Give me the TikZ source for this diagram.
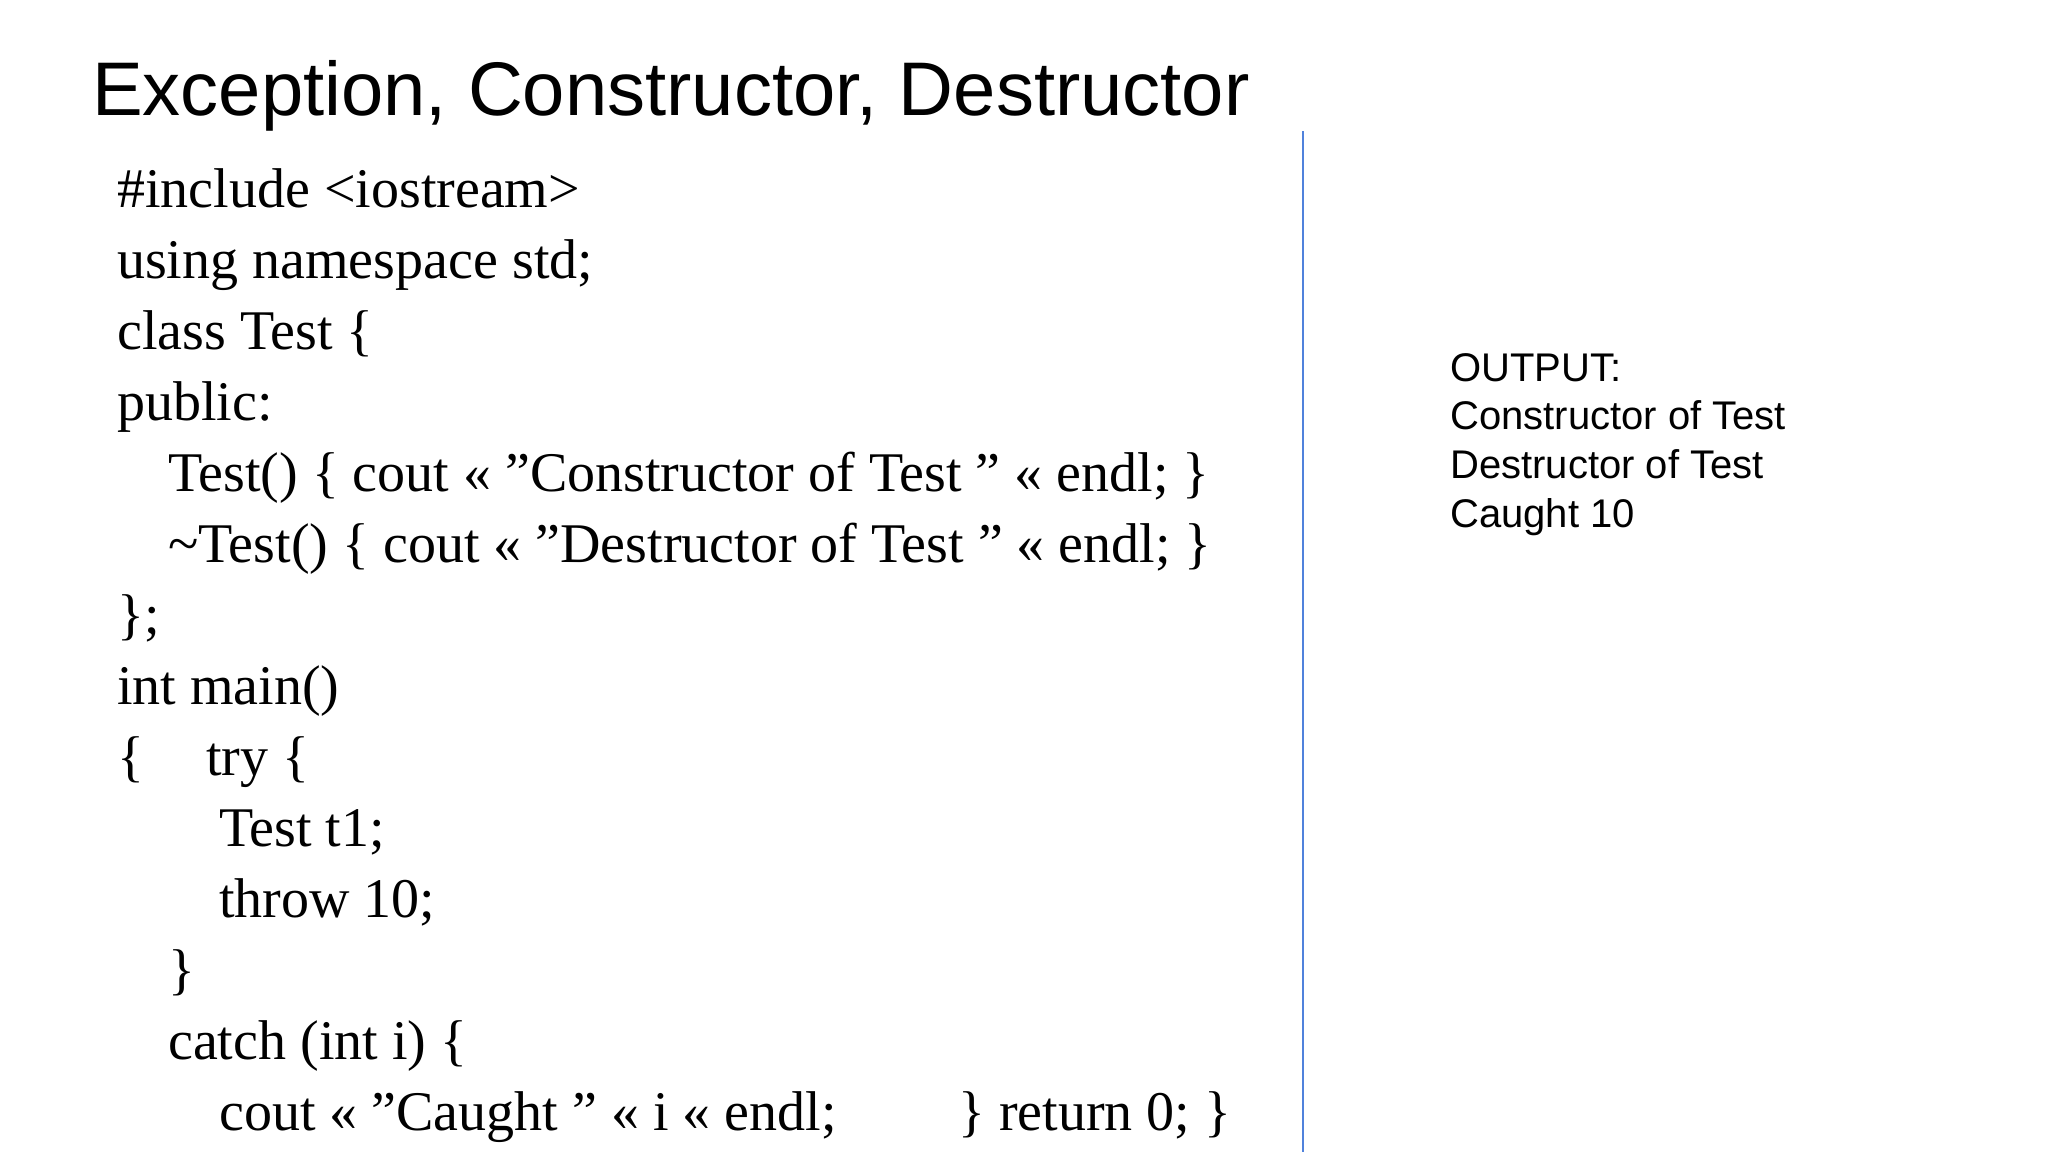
\documentclass[tikz,border=0pt]{standalone}
\usepackage{fontspec}
\setmainfont{Liberation Serif}
\newfontfamily\ttlfont{Liberation Sans}
\begin{document}
\begin{tikzpicture}[x=1pt,y=-1pt,
  code/.style={anchor=base west,inner sep=0pt,font=\fontsize{56}{60}\selectfont},
  outp/.style={anchor=base west,inner sep=0pt,font=\ttlfont\fontsize{40}{44}\selectfont}]
\useasboundingbox (0,0) rectangle (2048,1152);
\node[anchor=base west,inner sep=0pt,font=\ttlfont\fontsize{76}{80}\selectfont] (title) at (92,115) {Exception, Constructor, Destructor};
\coordinate (lt) at (1303,131); \coordinate (lb) at (1303,1152);
\draw[color={rgb,255:red,80;green,130;blue,220},line width=1.8pt] (lt) -- (lb);
\node[code] (c1) at (117,207) {\#include <iostream>};
\node[code] (c2) at (117,278) {using namespace std;};
\node[code] (c3) at (117,349) {class Test \{};
\node[code] (c4) at (117,420) {public:};
\node[code] (c5) at (168,491) {Test() \{ cout << "Constructor of Test " << endl; \}};
\node[code] (c6) at (168,562) {\string~Test() \{ cout << "Destructor of Test " << endl; \}};
\node[code] (c7) at (117,633) {\};};
\node[code] (c8) at (117,704) {int main()};
\node[code] (c9) at (117,775) {\{};
\node[code] (c9b) at (206,775) {try \{};
\node[code] (c10) at (219,846) {Test t1;};
\node[code] (c11) at (219,917) {throw 10;};
\node[code] (c12) at (168,988) {\}};
\node[code] (c13) at (168,1059) {catch (int i) \{};
\node[code] (c14) at (219,1130) {cout << "Caught " << i << endl;};
\node[code] (c14b) at (958,1130) {\} return 0; \}};
\node[outp] (o1) at (1450,381) {OUTPUT:};
\node[outp] (o2) at (1450,429) {Constructor of Test};
\node[outp] (o3) at (1450,478) {Destructor of Test};
\node[outp] (o4) at (1450,527) {Caught 10};
\end{tikzpicture}
\end{document}
